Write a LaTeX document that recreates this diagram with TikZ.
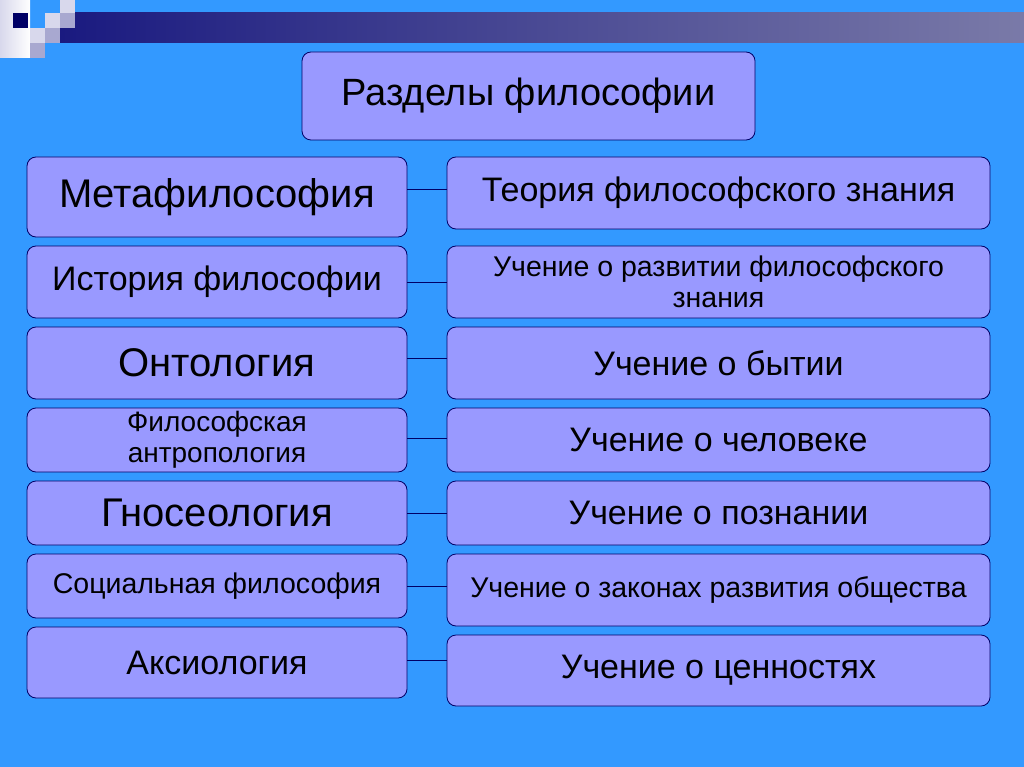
\documentclass[tikz,border=0pt]{standalone}
\usepackage{fontspec}
\setmainfont{Liberation Sans}
\usetikzlibrary{positioning}
\definecolor{clbg}{HTML}{3399FF}
\definecolor{clbox}{HTML}{9999FF}
\definecolor{clnavy}{HTML}{000066}
\definecolor{clbar}{HTML}{1A1A80}
\definecolor{clbarend}{HTML}{7A7AA8}
\definecolor{cllight}{HTML}{D8D8EC}
\definecolor{clmid}{HTML}{A8A8D0}
\tikzstyle{block} = [draw=clnavy, thick, rounded corners=9pt, fill=clbox, text centered, inner sep=0pt]
\tikzstyle{link} = [draw=clnavy, thin]
\newcommand{\fs}[1]{\fontsize{#1pt}{\dimexpr#1pt*11/10\relax}\selectfont}
\begin{document}
\begin{tikzpicture}[x=1pt, y=-1pt]
    \fill [clbg] (0,0) rectangle (1024,767);
    % corner decoration
    \shade [left color=clbar, right color=clbarend] (60,13) rectangle (1024,43);
    \shade [left color=cllight, right color=white] (0,0) rectangle (30,58);
    \fill [clnavy] (13,13) rectangle (28,28);
    \fill [cllight] (60,0) rectangle (75,13);
    \fill [cllight] (45,13) rectangle (60,28);
    \fill [clmid] (60,13) rectangle (75,28);
    \fill [cllight] (30,28) rectangle (45,43);
    \fill [clmid] (45,28) rectangle (60,43);
    \fill [clmid] (30,43) rectangle (45,58);
    % boxes
    \node [block, minimum width=453, minimum height=88, font=\fs{38}] (top) at (528.5,96) {Разделы философии};
    \node [block, minimum width=380, minimum height=80, font=\fs{40}] (l1) at (217,197) {Метафилософия};
    \node [block, minimum width=380, minimum height=72, font=\fs{34}] (l2) at (217,282) {История философии};
    \node [block, minimum width=380, minimum height=72, font=\fs{40}] (l3) at (217,363) {Онтология};
    \node [block, minimum width=380, minimum height=64, align=center, font=\fs{28}] (l4) at (217,440) {Философская\\антропология};
    \node [block, minimum width=380, minimum height=64, font=\fs{40}] (l5) at (217,513) {Гносеология};
    \node [block, minimum width=380, minimum height=64, font=\fs{28.5}] (l6) at (217,586) {Социальная философия};
    \node [block, minimum width=380, minimum height=71, font=\fs{34}] (l7) at (217,662.5) {Аксиология};
    \node [block, minimum width=543, minimum height=72, font=\fs{34}] (r1) at (718.5,193) {Теория философского знания};
    \node [block, minimum width=543, minimum height=72, align=center, font=\fs{28.5}] (r2) at (718.5,282) {Учение о развитии философского\\знания};
    \node [block, minimum width=543, minimum height=72, font=\fs{34}] (r3) at (718.5,363) {Учение о бытии};
    \node [block, minimum width=543, minimum height=64, font=\fs{34}] (r4) at (718.5,440) {Учение о человеке};
    \node [block, minimum width=543, minimum height=64, font=\fs{34}] (r5) at (718.5,513) {Учение о познании};
    \node [block, minimum width=543, minimum height=72, font=\fs{28.5}] (r6) at (718.5,590) {Учение о законах развития общества};
    \node [block, minimum width=543, minimum height=71, font=\fs{34}] (r7) at (718.5,670.5) {Учение о ценностях};
    % connectors
    \path [link] (l1.east) ++(0,-8) -- ++(40,0);
    \path [link] (l2.east) -- (l2.east -| r2.west);
    \path [link] (l3.east) ++(0,-5) -- ++(40,0);
    \path [link] (l4.east) ++(0,-2) -- ++(40,0);
    \path [link] (l5.east) -- (l5.east -| r5.west);
    \path [link] (l6.east) -- (l6.east -| r6.west);
    \path [link] (l7.east) ++(0,-2) -- ++(40,0);
\end{tikzpicture}
\end{document}
